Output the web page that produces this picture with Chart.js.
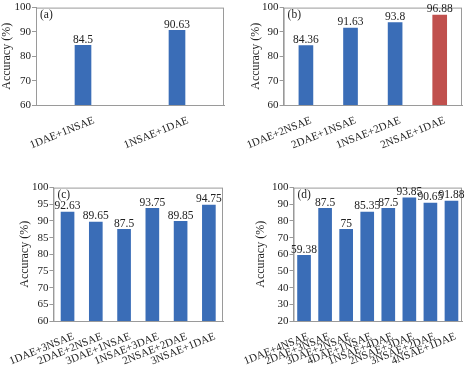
<!DOCTYPE html>
<html>
<head>
<meta charset="utf-8">
<script src="https://cdn.jsdelivr.net/npm/chart.js@4"></script>
<style>
  body { margin: 0; background: #fff; }
  .panel { position: absolute; }
</style>
</head>
<body>
<div class="panel" style="left:0;top:0;width:237px;height:185px"><canvas id="chartA"></canvas></div>
<div class="panel" style="left:237px;top:0;width:237px;height:185px"><canvas id="chartB"></canvas></div>
<div class="panel" style="left:0;top:180px;width:237px;height:189px"><canvas id="chartC"></canvas></div>
<div class="panel" style="left:237px;top:180px;width:237px;height:189px"><canvas id="chartD"></canvas></div>
<script>
// panel (a)
const labelsA = ['1DAE+1NSAE', '1NSAE+1DAE'];
const valuesA = [84.5, 90.63];
// panel (b)
const labelsB = ['1DAE+2NSAE', '2DAE+1NSAE', '1NSAE+2DAE', '2NSAE+1DAE'];
const valuesB = [84.36, 91.63, 93.8, 96.88];
// panel (c)
const labelsC = ['1DAE+3NSAE', '2DAE+2NSAE', '3DAE+1NSAE', '1NSAE+3DAE', '2NSAE+2DAE', '3NSAE+1DAE'];
const valuesC = [92.63, 89.65, 87.5, 93.75, 89.85, 94.75];
// panel (d)
const labelsD = ['1DAE+4NSAE', '2DAE+3NSAE', '3DAE+2NSAE', '4DAE+1NSAE', '1NSAE+4DAE', '2NSAE+3DAE', '3NSAE+2DAE', '4NSAE+1DAE'];
const valuesD = [59.38, 87.5, 75, 85.35, 87.5, 93.85, 90.65, 91.88];

const BLUE = '#3a6db7';
const RED = '#c0504d';
const FONT = "'Liberation Serif', 'Times New Roman', serif";

// draws values above bars, the panel tag and a frame round the plot
const extras = {
    id: 'extras',
    afterDatasetsDraw(chart, args, opts) {
        const ctx = chart.ctx;
        const area = chart.chartArea;
        ctx.save();
        ctx.strokeStyle = '#9a9a9a';
        ctx.lineWidth = 1;
        ctx.strokeRect(area.left + 0.5, area.top + 0.5, area.right - area.left - 1, area.bottom - area.top);
        ctx.fillStyle = '#222';
        ctx.font = '11.5px ' + FONT;
        ctx.textAlign = 'center';
        ctx.textBaseline = 'bottom';
        const meta = chart.getDatasetMeta(0);
        meta.data.forEach((bar, i) => {
            ctx.fillText(String(chart.data.datasets[0].data[i]), bar.x, bar.y);
        });
        ctx.textAlign = 'left';
        ctx.textBaseline = 'top';
        ctx.fillText(opts.tag, area.left + 4, area.top + 2);
        ctx.restore();
    }
};

function makeChart(id, labels, values, colors, cfg) {
    const ctx = document.getElementById(id).getContext('2d');
    return new Chart(ctx, {
        type: 'bar',
        data: {
            labels: labels,
            datasets: [{
                data: values,
                backgroundColor: colors,
                barThickness: cfg.bar
            }]
        },
        options: {
            responsive: true,
            maintainAspectRatio: false,
            animation: false,
            layout: { padding: { top: cfg.top, right: cfg.right, left: 0, bottom: 0 } },
            plugins: {
                legend: { display: false },
                tooltip: { enabled: false },
                extras: { tag: cfg.tag }
            },
            scales: {
                x: {
                    grid: { display: false },
                    border: { color: '#9a9a9a' },
                    ticks: {
                        color: '#222',
                        font: { family: FONT, size: 11 },
                        autoSkip: false,
                        minRotation: 22,
                        maxRotation: 22,
                        padding: 1,
                        labelOffset: cfg.shift
                    },
                    afterFit(scale) { scale.height = cfg.xh; }
                },
                y: {
                    min: cfg.min,
                    max: 100,
                    grid: { drawOnChartArea: false, tickLength: 4, color: '#9a9a9a' },
                    border: { color: '#9a9a9a' },
                    ticks: {
                        stepSize: cfg.step,
                        color: '#222',
                        font: { family: FONT, size: 11 },
                        padding: 1
                    },
                    title: {
                        display: true,
                        text: 'Accuracy (%)',
                        color: '#222',
                        font: { family: FONT, size: 12 },
                        padding: 0
                    },
                    afterFit(scale) { scale.width = cfg.yw; }
                }
            }
        },
        plugins: [extras]
    });
}

makeChart('chartA', labelsA, valuesA, BLUE,
    { tag: '(a)', bar: 16, top: 6, right: 13, xh: 80, yw: 36, min: 60, step: 10, shift: 11 });
makeChart('chartB', labelsB, valuesB, [BLUE, BLUE, BLUE, RED],
    { tag: '(b)', bar: 14, top: 6, right: 12, xh: 80, yw: 35, min: 60, step: 10, shift: 5 });
makeChart('chartC', labelsC, valuesC, BLUE,
    { tag: '(c)', bar: 13, top: 5, right: 14, xh: 48, yw: 36, min: 60, step: 5, shift: 6 });
makeChart('chartD', labelsD, valuesD, BLUE,
    { tag: '(d)', bar: 13, top: 4, right: 12, xh: 48, yw: 40, min: 20, step: 10, shift: 4 });
</script>
</body>
</html>
